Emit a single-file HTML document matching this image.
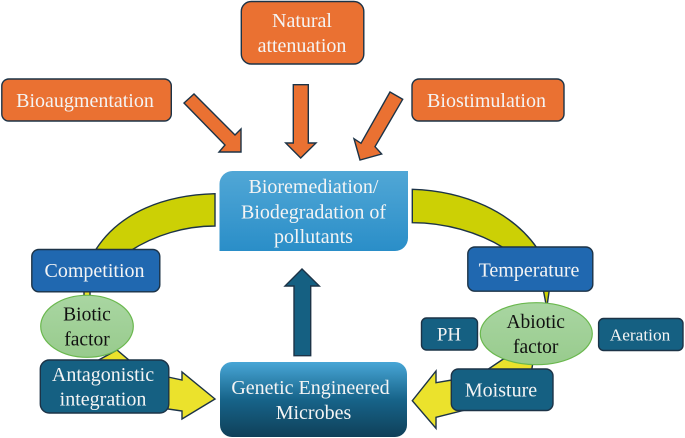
<!DOCTYPE html>
<html>
<head>
<meta charset="utf-8">
<style>
html,body{margin:0;padding:0;background:#fff;width:685px;height:438px;overflow:hidden}
svg{display:block}
text{font-family:"Liberation Serif",serif;font-size:20px;text-anchor:middle;fill:#f4f4f4}
.d{fill:#111;font-size:19.5px}
</style>
</head>
<body>
<svg width="685" height="438" viewBox="0 0 685 438" xmlns="http://www.w3.org/2000/svg">
<defs>
<linearGradient id="m" x1="0" y1="0" x2="0" y2="1"><stop offset="0" stop-color="#51a7d6"/><stop offset="1" stop-color="#2a8ec8"/></linearGradient>
<linearGradient id="g" x1="0" y1="0" x2="0" y2="1"><stop offset="0" stop-color="#48a6d6"/><stop offset="0.5" stop-color="#17648a"/><stop offset="1" stop-color="#0f4059"/></linearGradient>
<linearGradient id="e" x1="0" y1="0" x2="0" y2="1"><stop offset="0" stop-color="#a9d6a2"/><stop offset="1" stop-color="#98cb8d"/></linearGradient>
</defs>
<g stroke="#1c3347" stroke-width="1.4" stroke-linejoin="miter">
<!-- orange arrows -->
<g fill="#ea7132">
<polygon points="184,103 194,94 235,135 241,129 241,152 219,152 225,145"/>
<polygon points="293.3,84.7 308.3,84.7 308.3,143 316,143 300.7,158 285.7,143 293.3,143"/>
<polygon points="390,92 402.7,99.3 375,146.7 381.7,154 360,160 354,138.7 361,143.3"/>
</g>
<!-- arcs -->
<g fill="#ccd005">
<path d="M215,193.7 C165,195 120,212 96,249.3 L130,251 C155,235 185,226 215,226 Z"/>
<path d="M412.3,189.3 C465,191 512,212 537,248 L504,248 C478,232 445,222.7 412.3,222.7 Z"/>
</g>
<!-- yellow connector pieces -->
<g fill="#ebe22c">
<polygon points="84,290 90,290 90,298 84,298"/>
<polygon points="95,362 117,350 130,361"/>
<polygon points="168,377 182,380 182,372 215,399 182,419 182,411 168,409"/>
<polygon points="487,370 503.3,359 533,362 531.7,370"/>
<polygon points="452,380 436,382.7 436,371 412.3,400.7 436,428.3 436,417.3 465,410"/>
</g>
<polygon points="543.3,290 549.3,290 547.3,304 546,304" fill="#ccd005"/>
<!-- boxes -->
<g fill="#ea7132">
<rect x="241.3" y="1.5" width="122.5" height="62.5" rx="10"/>
<rect x="1.8" y="79" width="169.5" height="42" rx="7"/>
<rect x="412" y="79" width="152" height="42" rx="7"/>
</g>
<g fill="#2068b0">
<rect x="31.8" y="249.5" width="128" height="42.3" rx="7"/>
<rect x="467.8" y="247" width="125" height="44.2" rx="7"/>
</g>
<g fill="#156082">
<rect x="40.3" y="360" width="128.5" height="53" rx="9"/>
<rect x="421.5" y="318" width="56" height="32" rx="5"/>
<rect x="598.6" y="318.5" width="84.4" height="32" rx="5"/>
<rect x="451.3" y="369" width="101.7" height="41.5" rx="7"/>
<polygon points="294,355.7 310.7,355.7 310.7,286 319.3,286 302,269 285,286 294,286"/>
</g>
</g>
<!-- main boxes -->
<path d="M233,171 H408 V238 A13,13 0 0 1 395,251 H219.5 V184 A13,13 0 0 1 233,171 Z" fill="url(#m)"/>
<rect x="220" y="362" width="187" height="75" rx="12" fill="url(#g)"/>
<!-- ellipses -->
<ellipse cx="87" cy="326.3" rx="46.3" ry="31" fill="url(#e)" stroke="#6ab84e" stroke-width="1.2"/>
<ellipse cx="536.3" cy="333.7" rx="56" ry="31" fill="url(#e)" stroke="#6ab84e" stroke-width="1.2"/>
<!-- labels -->
<text x="302" y="27">Natural</text>
<text x="302" y="52">attenuation</text>
<text x="85" y="107">Bioaugmentation</text>
<text x="486.5" y="107">Biostimulation</text>
<text x="313.5" y="193">Bioremediation/</text>
<text x="313.5" y="218.5">Biodegradation of</text>
<text x="313.5" y="243">pollutants</text>
<text x="94.5" y="277">Competition</text>
<text class="d" x="87" y="320.7">Biotic</text>
<text class="d" x="87" y="345.7">factor</text>
<text x="103" y="381">Antagonistic</text>
<text x="103" y="405.7">integration</text>
<text x="310.5" y="394">Genetic Engineered</text>
<text x="313.5" y="419">Microbes</text>
<text x="529" y="276.7">Temperature</text>
<text class="d" x="535.7" y="328">Abiotic</text>
<text class="d" x="535.7" y="353">factor</text>
<text x="449" y="340.7" style="font-size:19px">PH</text>
<text x="640" y="340.7" style="font-size:17.3px">Aeration</text>
<text x="501" y="396.7">Moisture</text>
</svg>
</body>
</html>
